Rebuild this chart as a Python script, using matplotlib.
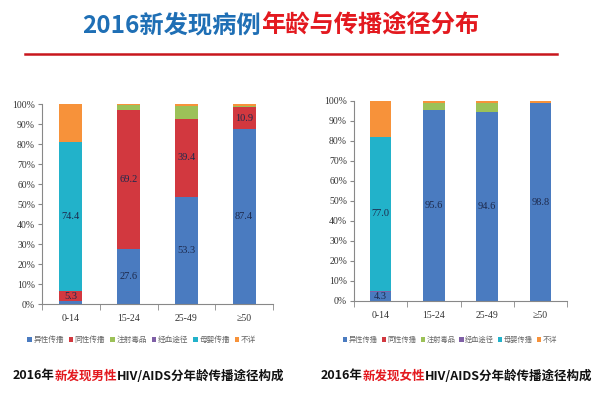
import numpy as np
import matplotlib
matplotlib.use('Agg')
import matplotlib.pyplot as plt

plt.rcParams['font.family'] = ['Noto Sans CJK SC', 'DejaVu Sans']

ages = ['0-14', '15-24', '25-49', '≥50']
routes = ['异性传播', '同性传播', '注射毒品', '经血途径', '母婴传播', '不详']
colors = ['#4a7bc0', '#d2383f', '#9cc158', '#7f5fa6', '#22b2ca', '#f7923a']

# percent by route (rows) and age group (columns)
male = np.array([
    [1.3, 27.6, 53.3, 87.4],
    [5.3, 69.2, 39.4, 10.9],
    [0.0, 2.5, 6.5, 0.5],
    [0.0, 0.0, 0.0, 0.0],
    [74.4, 0.0, 0.0, 0.0],
    [19.0, 0.7, 0.8, 1.2],
])
female = np.array([
    [4.3, 95.6, 94.6, 98.8],
    [0.0, 0.0, 0.0, 0.0],
    [0.0, 3.5, 4.5, 0.3],
    [0.7, 0.0, 0.0, 0.0],
    [77.0, 0.0, 0.0, 0.0],
    [18.0, 0.9, 0.9, 0.9],
])
male_labels = {(0, 1): '27.6', (0, 2): '53.3', (0, 3): '87.4',
               (1, 0): '5.3', (1, 1): '69.2', (1, 2): '39.4', (1, 3): '10.9',
               (4, 0): '74.4'}
female_labels = {(0, 0): '4.3', (0, 1): '95.6', (0, 2): '94.6', (0, 3): '98.8',
                 (4, 0): '77.0'}

title_blue = '2016新发现病例'
title_red = '年龄与传播途径分布'
cap_male = ['2016年', '新发现男性', 'HIV/AIDS分年龄传播途径构成']
cap_female = ['2016年', '新发现女性', 'HIV/AIDS分年龄传播途径构成']

fig = plt.figure(figsize=(6, 3.94), dpi=100)
W, H = 600, 394


def draw_chart(rect, data, labels, legend_x, legend_fs, legend_gap):
    ax = fig.add_axes(rect)
    x = np.arange(len(ages))
    bottom = np.zeros(len(ages))
    for i, row in enumerate(data):
        ax.bar(x, row, 0.4, bottom=bottom, color=colors[i], label=routes[i])
        for j in range(len(ages)):
            if (i, j) in labels:
                ax.text(x[j], bottom[j] + row[j] / 2, labels[(i, j)],
                        ha='center', va='center', fontsize=7.5,
                        family='Liberation Serif', color='#1d2a4d')
        bottom += row
    ax.set_xlim(-0.5, 3.5)
    ax.set_ylim(0, 100)
    ax.set_yticks(np.arange(0, 101, 10))
    ax.set_yticklabels([f'{v}%' for v in range(0, 101, 10)],
                       family='Liberation Serif', fontsize=7, color='#333333')
    ax.set_xticks(x)
    ax.set_xticklabels(ages, family=['Liberation Serif', 'DejaVu Serif'],
                       fontsize=7, color='#333333')
    ax.set_xticks(np.arange(-0.5, 4.0, 1.0), minor=True)
    ax.tick_params(axis='x', which='major', length=0, pad=7)
    ax.tick_params(axis='x', which='minor', length=4, color='#888888')
    ax.tick_params(axis='y', length=3, color='#888888', pad=2)
    for s in ['top', 'right']:
        ax.spines[s].set_visible(False)
    for s in ['left', 'bottom']:
        ax.spines[s].set_color('#888888')
        ax.spines[s].set_linewidth(0.8)
    ax.legend(loc='center left', bbox_to_anchor=(legend_x, 1 - 340 / H),
              bbox_transform=fig.transFigure, ncol=6, frameon=False,
              fontsize=legend_fs, handlelength=0.6, handleheight=0.6,
              handletextpad=0.2, columnspacing=legend_gap,
              labelcolor='#666666', borderaxespad=0, borderpad=0)
    return ax


draw_chart([42 / W, 1 - 304 / H, 231 / W, 200 / H], male, male_labels,
           27 / W, 5.5, 0.65)
draw_chart([354 / W, 1 - 301 / H, 213 / W, 200 / H], female, female_labels,
           343 / W, 5.2, 0.55)


def colored_text(x0, y, parts, part_colors, **kw):
    renderer = fig.canvas.get_renderer()
    x = x0
    for p, c in zip(parts, part_colors):
        t = fig.text(x, y, p, color=c, va='center', ha='left', **kw)
        bb = t.get_window_extent(renderer=renderer)
        x += bb.width / W


colored_text(82 / W, 1 - 25 / H, [title_blue, title_red], ['#1f6fb5', '#e3191f'],
             fontsize=17.5, fontweight='bold')
fig.add_artist(plt.Line2D([25 / W, 557 / W], [1 - 54 / H, 1 - 54 / H],
                          color='#c8161d', linewidth=1.8))

colored_text(13 / W, 1 - 376 / H, cap_male, ['#111111', '#e3191f', '#111111'],
             fontsize=9.0, fontweight='bold')
colored_text(321 / W, 1 - 376 / H, cap_female, ['#111111', '#e3191f', '#111111'],
             fontsize=9.0, fontweight='bold')

fig.savefig('out.png', dpi=100)
